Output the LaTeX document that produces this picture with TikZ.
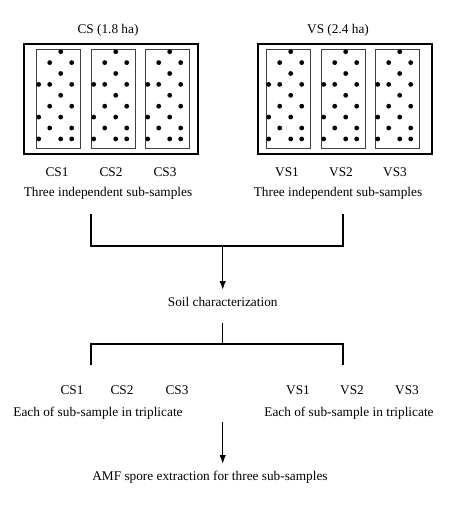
\documentclass[tikz,border=0pt]{standalone}
\usepackage{fontspec}
\setmainfont{Liberation Serif}
\usepackage{tikz}
\usetikzlibrary{
    arrows.meta,
    calc
}

\tikzset{
    field/.style={draw=black, line width=1.3pt},
    strip/.style={draw=black!75, line width=0.7pt},
    lbl/.style={font=\fontsize{13.3}{16}\selectfont, inner sep=0pt, anchor=base},
    link/.style={line width=1.4pt},
    flow/.style={line width=1.4pt, -{Latex[length=9pt,width=6.5pt]}}
}

\begin{document}
\begin{tikzpicture}[x=1pt,y=-1pt]
\useasboundingbox (0,0) rectangle (474,516);

% Fields
\draw[field] (24,44) rectangle (198,154);
\draw[field] (258,44) rectangle (432,154);

% Sub-sample strips with sampling points
\foreach \bx in {36,91,145,266,321,375}{
  \draw[strip] (\bx,49) rectangle ++(44,99);
  \foreach \c/\r in {2/0,1/1,3/1,2/2,0/3,1/3,3/3,2/4,1/5,3/5,0/6,2/6,1/7,3/7,0/8,2/8,3/8}
    \fill (\bx+2.7+11*\c, 51.7+10.9*\r) circle (2.4);
}

% Labels
\node[lbl] (cs) at (108,33.5) {CS (1.8 ha)};
\node[lbl] (vs) at (338,33.5) {VS (2.4 ha)};
\node[lbl] (cs1) at (57,176) {CS1};
\node[lbl] (cs2) at (111,176) {CS2};
\node[lbl] (cs3) at (165,176) {CS3};
\node[lbl] (vs1) at (287,176) {VS1};
\node[lbl] (vs2) at (341,176) {VS2};
\node[lbl] (vs3) at (395,176) {VS3};
\node[lbl] (csnote) at (108,196.5) {Three independent sub-samples};
\node[lbl] (vsnote) at (338,196.5) {Three independent sub-samples};

\node[lbl] (soil) at (222.7,306.7) {Soil characterization};

\node[lbl] (cs1b) at (72,394.3) {CS1};
\node[lbl] (cs2b) at (122,394.3) {CS2};
\node[lbl] (cs3b) at (177,394.3) {CS3};
\node[lbl] (vs1b) at (298,394.3) {VS1};
\node[lbl] (vs2b) at (352,394.3) {VS2};
\node[lbl] (vs3b) at (407,394.3) {VS3};
\node[lbl] (csrep) at (98,416) {Each of sub-sample in triplicate};
\node[lbl] (vsrep) at (349,416) {Each of sub-sample in triplicate};

\node[lbl] (amf) at (210,480.7) {AMF spore extraction for three sub-samples};

% Joints
\coordinate (tl) at (91,214);
\coordinate (tr) at (343,214);
\coordinate (tm) at (222.7,246);
\coordinate (st) at (222.7,290);
\coordinate (sb) at (222.7,323);
\coordinate (bm) at (222.7,344);
\coordinate (bl) at (91,365);
\coordinate (br) at (343,365);
\coordinate (at) at (222.7,422);
\coordinate (ab) at (222.7,464);

% Connectors
\draw[link] (tl) |- (tm) -| (tr);
\draw[flow] (tm) -- (st);
\draw[link] (sb) -- (bm);
\draw[link] (bl) |- (bm) -| (br);
\draw[flow] (at) -- (ab);

\end{tikzpicture}
\end{document}
